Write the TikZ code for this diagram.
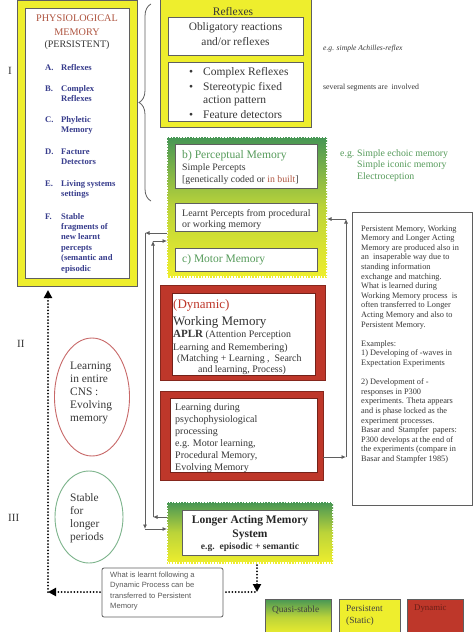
\documentclass[tikz,border=0pt]{standalone}
\usepackage{fontspec}
\setmainfont{Liberation Serif}
\newfontfamily\notefont{Liberation Sans}
\usetikzlibrary{decorations.pathreplacing,arrows.meta,shapes.geometric}
\definecolor{yel}{RGB}{238,238,45}
\definecolor{redb}{RGB}{190,55,42}
\definecolor{grn}{RGB}{70,150,85}
\definecolor{grntxt}{RGB}{85,155,90}
\definecolor{navy}{RGB}{55,60,140}
\definecolor{brownt}{RGB}{175,85,65}
\definecolor{txt}{RGB}{55,55,55}
\definecolor{linec}{RGB}{95,95,95}
\definecolor{ellred}{RGB}{200,105,105}
\definecolor{ellgrn}{RGB}{125,180,140}
\newcommand\fsz[2]{\fontsize{#1}{#2}\selectfont}
\begin{document}
\begin{tikzpicture}[x=1pt,y=-1pt,
  box/.style={draw=linec, line width=0.8pt, inner sep=0pt, outer sep=0pt, anchor=north west},
  wbox/.style={box, fill=white},
  rbox/.style={box, fill=redb, draw=redb!70!black},
  lbl/.style={inner sep=0pt, anchor=base west, align=left, text=txt},
  qsfill/.style={box, top color=grn, bottom color=yel, middle color=yel!70!grn, draw=none},
  stamp/.style={draw=white, line width=1.4pt, dash pattern=on 1.4pt off 1.4pt},
  conn/.style={draw=linec, line width=0.8pt, -{Latex[length=4.5pt,width=4pt]}},
  dotline/.style={line width=2pt, dash pattern=on 0pt off 3.2pt, line cap=round, draw=black},
  dotarrow/.style={dotline, -{Triangle[length=8pt,width=8pt]}},
]
\useasboundingbox[fill=white] (0,0) rectangle (474,632);
% (multi-line labels are placed by the baseline of their LAST line)

% ---------- Physiological memory ----------
\node[box, fill=yel, minimum width=120pt, minimum height=286pt] (phys) at (17,0) {};
\node[wbox, minimum width=104pt, minimum height=270pt] (physin) at (25,8) {};
\node[lbl, anchor=base, align=center, text=brownt, font=\fsz{10.2}{14}] (pt1) at (77,35) {PHYSIOLOGICAL\\MEMORY};
\node[lbl, anchor=base, text=txt, font=\fsz{10}{10}] (pt2) at (77,47) {(PERSISTENT)};
\foreach \l/\y/\z/\t [count=\i] in {A./70/70/Reflexes, B./91/101.4/Complex\\Reflexes, C./122/132.4/Phyletic\\Memory, D./154/164.4/Facture\\Detectors, E./186/196.4/Living systems\\settings, F./219/271/Stable\\fragments of\\new learnt\\percepts\\(semantic and\\episodic}{
  \node[lbl, text=navy, font=\fsz{8.6}{10.4}\bfseries] (pl\i) at (45,\y) {\l};
  \node[lbl, text=navy, font=\fsz{8.6}{10.4}\bfseries] (pi\i) at (61,\z) {\t};
}
\node[lbl, text=txt, font=\fsz{11}{13}] (lI) at (8,74) {I};
\node[lbl, text=txt, font=\fsz{11}{13}] (lII) at (17,347) {II};
\node[lbl, text=txt, font=\fsz{11}{13}] (lIII) at (8,521) {III};

% brace
\draw[linec, line width=0.8pt, decorate, decoration={brace, amplitude=12pt}] (151,201) -- (151,4);

% ---------- Reflexes ----------
\node[box, fill=yel, minimum width=151pt, minimum height=128pt] (refl) at (160,-1) {};
\node[lbl, anchor=base, font=\fsz{11.5}{12}] (rt) at (233,15.5) {Reflexes};
\node[wbox, minimum width=135pt, minimum height=38pt] (ob) at (168,17) {};
\node[lbl, anchor=base, align=center, font=\fsz{11.4}{14.5}] (obt) at (ob.north |- 0,45) {Obligatory reactions\\and/or reflexes};
\node[wbox, minimum width=135pt, minimum height=59pt] (cx) at (168,62) {};
\foreach \y/\z/\t [count=\i] in {75.5/75.5/Complex Reflexes, 90.5/103.5/Stereotypic fixed\\action pattern, 118/118/Feature detectors}{
  \node[lbl, font=\fsz{11.5}{13}] (cb\i) at (189,\y) {\textbullet};
  \node[lbl, font=\fsz{11.5}{13}] (ct\i) at (203,\z) {\t};
}
\node[lbl, font=\fsz{7.6}{8}\itshape] (eg1) at (323,50) {e.g. simple Achilles-reflex};
\node[lbl, font=\fsz{7.8}{8}] (eg2) at (323,89) {several segments are\ \ involved};

% ---------- Quasi-stable: perceptual / motor ----------
\node[qsfill, minimum width=160pt, minimum height=140pt] (qs) at (167,137) {};
\draw[stamp] (qs.north west) rectangle (qs.south east);
\node[wbox, minimum width=142pt, minimum height=44pt] (pm) at (175,144) {};
\node[lbl, text=grntxt, font=\fsz{11.6}{12}] (pmt1) at (182,158.5) {b) Perceptual Memory};
\node[lbl, font=\fsz{9.8}{12}] (pmt2) at (182,182.5) {Simple Percepts\\{[}genetically coded or \textcolor{brownt}{in built}{]}};
\node[wbox, minimum width=142pt, minimum height=28pt] (lpc) at (175,203) {};
\node[lbl, font=\fsz{9.9}{11}] (lpct) at (182,227) {Learnt Percepts from procedural\\or working memory};
\node[wbox, minimum width=142pt, minimum height=23pt] (mm) at (175,248) {};
\node[lbl, text=grntxt, font=\fsz{11.5}{12}] (mmt) at (182,262.5) {c) Motor Memory};
\node[lbl, text=grntxt, font=\fsz{9.8}{11.8}] (egp) at (340,156) {e.g.};
\node[lbl, text=grntxt, font=\fsz{9.8}{11.8}] (egpt) at (357,179.6) {Simple echoic memory\\Simple iconic memory\\Electroception};

% ---------- Working memory ----------
\node[rbox, minimum width=165pt, minimum height=95pt] (wm) at (160,285) {};
\node[box, fill=white, draw=redb!60!black, line width=0.5pt, minimum width=143pt, minimum height=82pt] (wmi) at (172,293) {};
\node[lbl, text=redb, font=\fsz{13}{12}] (wm1) at (173,308) {(Dynamic)};
\node[lbl, text=black!80, font=\fsz{13}{13}] (wm2) at (173,325.5) {Working Memory};
\node[lbl, font=\fsz{9.9}{12.5}] (wm3) at (173,350) {{\fsz{11}{12}\bfseries APLR} (Attention Perception\\Learning and Remembering)};
\node[lbl, font=\fsz{9.9}{11}] (wm4) at (177,361.5) {(Matching + Learning ,\ \ Search};
\node[lbl, font=\fsz{9.9}{11}] (wm5) at (198,372.5) {and learning, Process)};

% ---------- Learning during psychophysiological processing ----------
\node[rbox, minimum width=163pt, minimum height=89pt] (lp) at (160,391) {};
\node[box, fill=white, draw=redb!60!black, line width=0.5pt, minimum width=147pt, minimum height=74pt] (lpi) at (170,398) {};
\node[lbl, font=\fsz{10}{12}] (lpt) at (175,470) {Learning during\\psychophysiological\\processing\\e.g. Motor learning,\\Procedural Memory,\\Evolving Memory};

% ---------- Longer acting memory ----------
\node[qsfill, minimum width=166pt, minimum height=61pt] (lam) at (167,502) {};
\draw[stamp] (lam.north west) rectangle (lam.south east);
\node[wbox, minimum width=136pt, minimum height=45pt] (lami) at (182,510) {};
\node[lbl, anchor=base, align=center, text=black!85, font=\fsz{11.5}{14}\bfseries] (lamt) at (250,537.5) {Longer Acting Memory\\System};
\node[lbl, anchor=base, text=black!80, font=\fsz{9.6}{10}\bfseries] (lamt2) at (250,549.5) {e.g.\ \ episodic + semantic};

% ---------- right text box ----------
\node[wbox, minimum width=120pt, minimum height=293pt] (rb) at (352,212) {};
\node[lbl, font=\fsz{8.3}{9.6}] (rbt) at (361,461.4) {Persistent Memory, Working\\Memory and Longer Acting\\Memory are produced also in\\an\ \ insaperable way due to\\standing information\\exchange and matching.\\What is learned during\\Working Memory process\ \ is\\often transferred to Longer\\Acting Memory and also to\\Persistent Memory.\\[9.6pt]Examples:\\1) Developing of -waves in\\Expectation Experiments\\[9.6pt]2) Development of -\\responses in P300\\experiments. Theta appears\\and is phase locked as the\\experiment processes.\\Basar and\ \ Stampfer\ \ papers:\\P300 develops at the end of\\the experiments (compare in\\Basar and Stampfer 1985)};

% ---------- ellipses ----------
\node[draw=ellred, line width=0.9pt, ellipse, minimum width=75pt, minimum height=118pt, inner sep=0pt] (e1) at (92,397) {};
\node[lbl, font=\fsz{11.4}{13}] (e1t) at (70,421) {Learning\\in entire\\CNS :\\Evolving\\memory};
\node[draw=ellgrn, line width=0.9pt, ellipse, minimum width=68pt, minimum height=92pt, inner sep=0pt] (e2) at (89,517) {};
\node[lbl, font=\fsz{11.4}{13}] (e2t) at (70,540) {Stable\\for\\longer\\periods};

% ---------- connectors ----------
\coordinate (lo1) at (145,233);
\coordinate (lo2) at (145,529);
\draw[conn] (lo1 -| qs.west) -- (lo1);
\draw[conn] (lo1) -- (lo2);
\draw[conn] (lo2) -- (lo2 -| lam.west);
\coordinate (li1) at (153,241);
\coordinate (li2) at (153,517);
\draw[conn] (li2 -| lam.west) -- (li2);
\draw[conn] (li2) -- (li1);
\draw[conn] (li1) -- (li1 -| qs.west);
\coordinate (ro1) at (346,219);
\coordinate (ro2) at (346,457);
\draw[conn] (ro2 -| lp.east) -- (ro2);
\draw[conn] (ro2) -- (ro1);
\draw[conn] (ro1) -- (ro1 -| qs.east);

% ---------- note + dotted arrows ----------
\node[box, rounded corners=2pt, minimum width=121pt, minimum height=49pt] (note) at (102,568) {};
\node[lbl, text=black!65, font=\notefont\fsz{7.6}{10.6}] (notet) at (110,608.8) {What is learnt following a\\Dynamic Process can be\\transferred to Persistent\\Memory};
\coordinate (d1) at (48,592);
\coordinate (d2) at (257,592);
\draw[dotarrow] (d2 |- lam.south) ++(0,2) -- (d2);
\draw[dotline] (note.east |- d2) ++(3,0) -- (d2);
\draw[dotarrow] (note.west |- d1) ++(-2,0) -- (d1);
\draw[dotarrow] (d1) -- (48,290);

% ---------- legend ----------
\node[qsfill, draw=linec, minimum width=66pt, minimum height=36pt] (lgq) at (265,599) {};
\node[lbl, text=black!75, font=\fsz{9.4}{12}] (lgqt) at (272,612) {Quasi-stable};
\node[box, fill=yel, minimum width=61pt, minimum height=36pt] (lgp) at (339,599) {};
\node[lbl, text=black!75, font=\fsz{9.4}{12}] (lgpt) at (346,623) {Persistent\\(Static)};
\node[box, fill=redb, minimum width=56pt, minimum height=36pt] (lgd) at (407,599) {};
\node[lbl, text=redb!55!black, font=\fsz{8.8}{12}] (lgdt) at (414,610) {Dynamic};
\end{tikzpicture}
\end{document}
